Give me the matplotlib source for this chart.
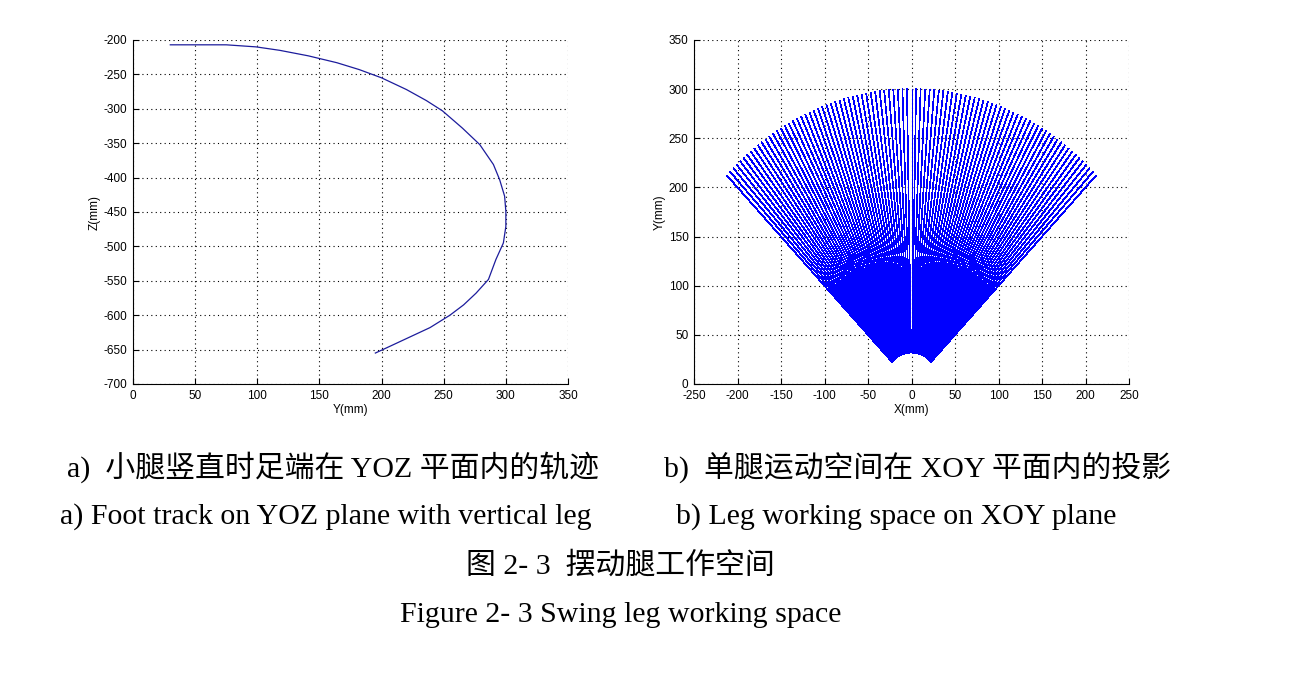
import numpy as np
import matplotlib
matplotlib.use("Agg")
from matplotlib import pyplot as plt

plt.rcParams['axes.unicode_minus'] = False

# a) foot track on YOZ plane (read off the picture)
track_y = [30, 75, 99, 118, 141, 164, 182, 200, 220, 236, 249, 265, 279, 290,
           295, 299, 300, 300, 298, 292, 286, 276, 266, 255, 239, 220, 201, 195]
track_z = [-207, -207, -210, -215, -223, -233, -243, -255, -272, -288, -303, -328,
           -352, -381, -403, -427, -449, -471, -495, -519, -548, -568, -585, -600,
           -618, -634, -650, -655]

# b) leg working space: swing angles (deg) of the fan, inner/outer reach (mm)
fan_angles_deg = [45, 46, 47, 48, 49, 50, 51, 52, 53, 54, 55, 56, 57, 58, 59, 60,
                  61, 62, 63, 64, 65, 66, 67, 68, 69, 70, 71, 72, 73, 74, 75, 76,
                  77, 78, 79, 80, 81, 82, 83, 84, 85, 86, 87, 88, 89, 90, 91, 92,
                  93, 94, 95, 96, 97, 98, 99, 100, 101, 102, 103, 104, 105, 106,
                  107, 108, 109, 110, 111, 112, 113, 114, 115, 116, 117, 118, 119,
                  120, 121, 122, 123, 124, 125, 126, 127, 128, 129, 130, 131, 132,
                  133, 134, 135]
reach_inner = 32
reach_outer = 300

fig = plt.figure(figsize=(12.92, 6.74), dpi=100)
tick_font = {'family': 'Liberation Sans', 'size': 8.5}


def style_axes(ax):
    ax.spines['top'].set_visible(False)
    ax.spines['right'].set_visible(False)
    ax.grid(True, color='black', linestyle=(0, (1, 3)), linewidth=0.8)
    ax.tick_params(direction='in', length=4, width=0.8, labelsize=8.5, pad=4)
    for lab in ax.get_xticklabels() + ax.get_yticklabels():
        lab.set_fontfamily('Liberation Sans')


# left plot
ax1 = fig.add_axes([133 / 1292, 1 - 384 / 674, 435 / 1292, 344 / 674])
ax1.plot(track_y, track_z, color='#1c1c9c', linewidth=0.9)
ax1.set_xlim(0, 350)
ax1.set_ylim(-700, -200)
ax1.set_xticks(range(0, 351, 50))
ax1.set_yticks(range(-700, -199, 50))
ax1.set_xlabel('Y(mm)', fontdict=tick_font, labelpad=2)
ax1.set_ylabel('Z(mm)', fontdict=tick_font, labelpad=2)
style_axes(ax1)

# right plot
ax2 = fig.add_axes([694 / 1292, 1 - 384 / 674, 435 / 1292, 344 / 674])
for a in np.radians(fan_angles_deg):
    ax2.plot([reach_inner * np.cos(a), reach_outer * np.cos(a)],
             [reach_inner * np.sin(a), reach_outer * np.sin(a)],
             color='#0000ff', linewidth=0.5, antialiased=False)
ax2.set_xlim(-250, 250)
ax2.set_ylim(0, 350)
ax2.set_xticks(range(-250, 251, 50))
ax2.set_yticks(range(0, 351, 50))
ax2.set_xlabel('X(mm)', fontdict=tick_font, labelpad=2)
ax2.set_ylabel('Y(mm)', fontdict=tick_font, labelpad=2)
style_axes(ax2)

# captions
cap = dict(family=['Liberation Serif', 'Noto Sans CJK SC'], size=21.5,
           ha='center', va='center')
fig.text(333 / 1292, 1 - 467 / 674, 'a)  小腿竖直时足端在 YOZ 平面内的轨迹', **cap)
fig.text(918 / 1292, 1 - 467 / 674, 'b)  单腿运动空间在 XOY 平面内的投影', **cap)
fig.text(326 / 1292, 1 - 517 / 674, 'a) Foot track on YOZ plane with vertical leg', **cap)
fig.text(896 / 1292, 1 - 517 / 674, 'b) Leg working space on XOY plane', **cap)
fig.text(620 / 1292, 1 - 566 / 674, '图 2- 3  摆动腿工作空间', **cap)
fig.text(621 / 1292, 1 - 615 / 674, 'Figure 2- 3 Swing leg working space', **cap)

fig.savefig('out.png', dpi=100)
